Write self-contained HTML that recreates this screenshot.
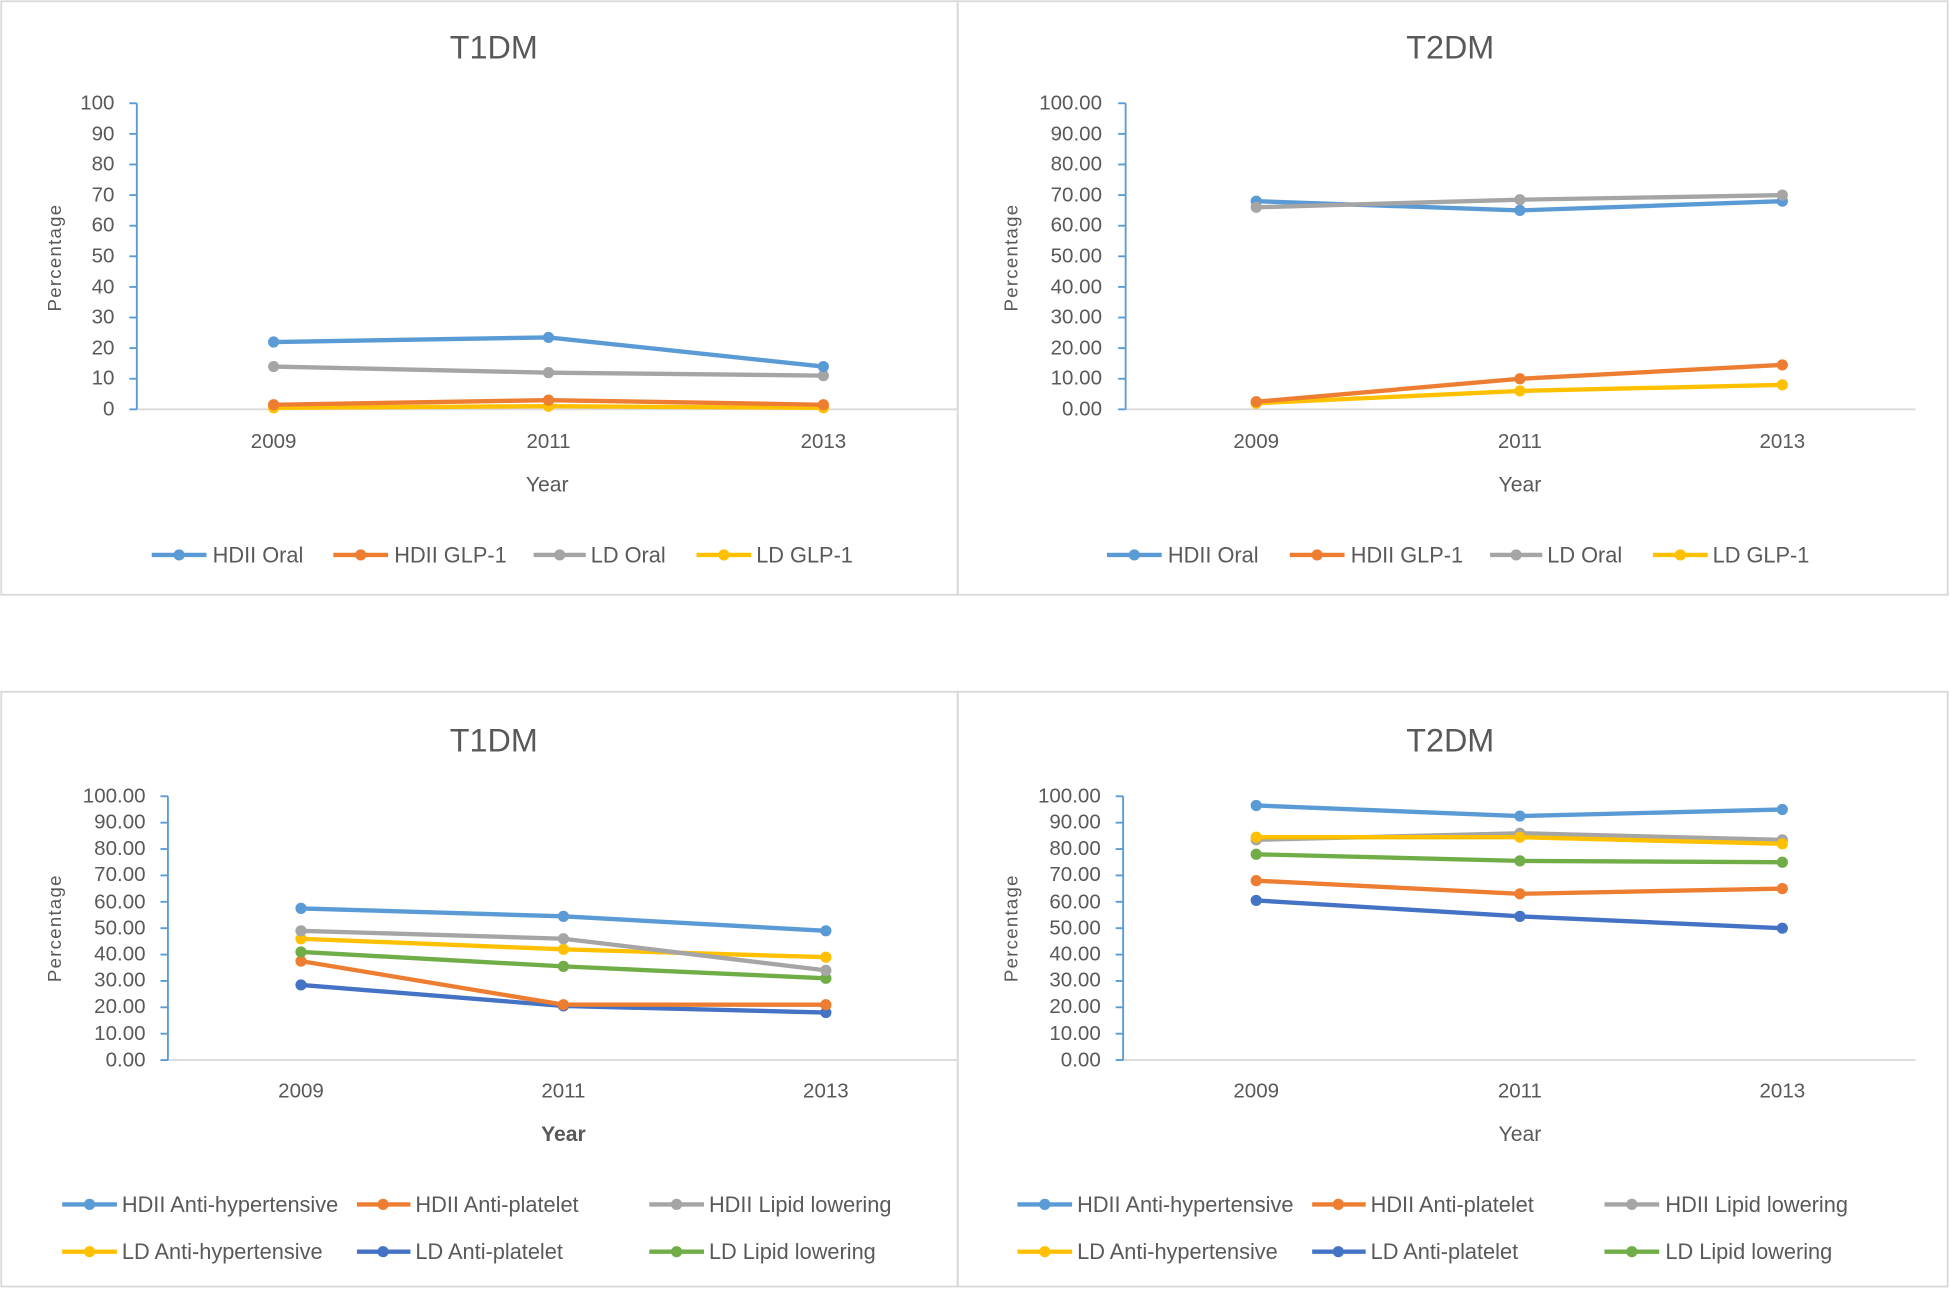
<!DOCTYPE html>
<html><head><meta charset="utf-8"><style>
html,body{margin:0;padding:0;background:#fff;}
svg{display:block;}
text{font-family:"Liberation Sans",sans-serif;fill:#595959;}
.t{font-size:26px;text-anchor:middle;}
.tk{font-size:16.5px;text-anchor:end;}
.xt{font-size:16.5px;text-anchor:middle;}
.lg{font-size:17.5px;}
</style></head><body>
<svg width="1949" height="1289" viewBox="0 0 1567 1036" preserveAspectRatio="none" xmlns="http://www.w3.org/2000/svg">
<rect width="1567" height="1036" fill="#fff"/>
<g fill="none" stroke="#d9d9d9" stroke-width="1.5">
<rect x="1" y="1" width="769" height="477"/>
<rect x="770" y="1" width="796" height="477"/>
<rect x="1" y="556" width="769" height="478"/>
<rect x="770" y="556" width="796" height="478"/>
</g>

<!-- TL -->
<text class="t" x="397" y="47">T1DM</text>
<line x1="110" y1="329" x2="770" y2="329" stroke="#d9d9d9" stroke-width="1.5"/>
<line x1="110" y1="83" x2="110" y2="329" stroke="#5b9bd5" stroke-width="1.5"/>
<g stroke="#5b9bd5" stroke-width="1.5">
<line x1="104" y1="83" x2="110" y2="83"/><line x1="104" y1="107.6" x2="110" y2="107.6"/><line x1="104" y1="132.2" x2="110" y2="132.2"/><line x1="104" y1="156.8" x2="110" y2="156.8"/><line x1="104" y1="181.4" x2="110" y2="181.4"/><line x1="104" y1="206" x2="110" y2="206"/><line x1="104" y1="230.6" x2="110" y2="230.6"/><line x1="104" y1="255.2" x2="110" y2="255.2"/><line x1="104" y1="279.8" x2="110" y2="279.8"/><line x1="104" y1="304.4" x2="110" y2="304.4"/><line x1="104" y1="329" x2="110" y2="329"/>
</g>
<text class="tk" x="92" y="88">100</text><text class="tk" x="92" y="113">90</text><text class="tk" x="92" y="137">80</text><text class="tk" x="92" y="162">70</text><text class="tk" x="92" y="186">60</text><text class="tk" x="92" y="211">50</text><text class="tk" x="92" y="236">40</text><text class="tk" x="92" y="260">30</text><text class="tk" x="92" y="285">20</text><text class="tk" x="92" y="309">10</text><text class="tk" x="92" y="334">0</text>
<text class="xt" x="220" y="360">2009</text><text class="xt" x="441" y="360">2011</text><text class="xt" x="662" y="360">2013</text>
<text class="xt" x="440" y="395" style="font-size:17px">Year</text>
<text class="xt" x="0" y="0" transform="translate(49,207) rotate(-90)" style="font-size:15px;letter-spacing:1px">Percentage</text>
<g stroke-width="3.5" fill="none">
<polyline stroke="#ffc000" points="220,327.8 441,326.5 662,327.8"/>
<polyline stroke="#ed7d31" points="220,325.3 441,321.6 662,325.3"/>
<polyline stroke="#a5a5a5" points="220,294.6 441,299.5 662,301.9"/>
<polyline stroke="#5b9bd5" points="220,274.9 441,271.2 662,294.6"/>
</g>
<g fill="#ffc000"><circle cx="220" cy="327.8" r="4.5"/><circle cx="441" cy="326.5" r="4.5"/><circle cx="662" cy="327.8" r="4.5"/></g>
<g fill="#ed7d31"><circle cx="220" cy="325.3" r="4.5"/><circle cx="441" cy="321.6" r="4.5"/><circle cx="662" cy="325.3" r="4.5"/></g>
<g fill="#a5a5a5"><circle cx="220" cy="294.6" r="4.5"/><circle cx="441" cy="299.5" r="4.5"/><circle cx="662" cy="301.9" r="4.5"/></g>
<g fill="#5b9bd5"><circle cx="220" cy="274.9" r="4.5"/><circle cx="441" cy="271.2" r="4.5"/><circle cx="662" cy="294.6" r="4.5"/></g>
<g stroke-width="3.5">
<line x1="122" y1="446" x2="166" y2="446" stroke="#5b9bd5"/><circle cx="144" cy="446" r="4.5" fill="#5b9bd5"/>
<line x1="268" y1="446" x2="312" y2="446" stroke="#ed7d31"/><circle cx="290" cy="446" r="4.5" fill="#ed7d31"/>
<line x1="429" y1="446" x2="471" y2="446" stroke="#a5a5a5"/><circle cx="450" cy="446" r="4.5" fill="#a5a5a5"/>
<line x1="560" y1="446" x2="604" y2="446" stroke="#ffc000"/><circle cx="582" cy="446" r="4.5" fill="#ffc000"/>
</g>
<text class="lg" x="171" y="452">HDII Oral</text><text class="lg" x="317" y="452">HDII GLP-1</text><text class="lg" x="475" y="452">LD Oral</text><text class="lg" x="608" y="452">LD GLP-1</text>

<!-- TR -->
<text class="t" x="1166" y="47">T2DM</text>
<line x1="905" y1="329" x2="1540" y2="329" stroke="#d9d9d9" stroke-width="1.5"/>
<line x1="905" y1="83" x2="905" y2="329" stroke="#5b9bd5" stroke-width="1.5"/>
<g stroke="#5b9bd5" stroke-width="1.5">
<line x1="899" y1="83" x2="905" y2="83"/><line x1="899" y1="107.6" x2="905" y2="107.6"/><line x1="899" y1="132.2" x2="905" y2="132.2"/><line x1="899" y1="156.8" x2="905" y2="156.8"/><line x1="899" y1="181.4" x2="905" y2="181.4"/><line x1="899" y1="206" x2="905" y2="206"/><line x1="899" y1="230.6" x2="905" y2="230.6"/><line x1="899" y1="255.2" x2="905" y2="255.2"/><line x1="899" y1="279.8" x2="905" y2="279.8"/><line x1="899" y1="304.4" x2="905" y2="304.4"/><line x1="899" y1="329" x2="905" y2="329"/>
</g>
<text class="tk" x="886" y="88">100.00</text><text class="tk" x="886" y="113">90.00</text><text class="tk" x="886" y="137">80.00</text><text class="tk" x="886" y="162">70.00</text><text class="tk" x="886" y="186">60.00</text><text class="tk" x="886" y="211">50.00</text><text class="tk" x="886" y="236">40.00</text><text class="tk" x="886" y="260">30.00</text><text class="tk" x="886" y="285">20.00</text><text class="tk" x="886" y="309">10.00</text><text class="tk" x="886" y="334">0.00</text>
<text class="xt" x="1010" y="360">2009</text><text class="xt" x="1222" y="360">2011</text><text class="xt" x="1433" y="360">2013</text>
<text class="xt" x="1222" y="395" style="font-size:17px">Year</text>
<text class="xt" x="0" y="0" transform="translate(818,207) rotate(-90)" style="font-size:15px;letter-spacing:1px">Percentage</text>
<g stroke-width="3.5" fill="none">
<polyline stroke="#ffc000" points="1010,324.1 1222,314.2 1433,309.3"/>
<polyline stroke="#ed7d31" points="1010,322.9 1222,304.4 1433,293.3"/>
<polyline stroke="#5b9bd5" points="1010,161.7 1222,169.1 1433,161.7"/>
<polyline stroke="#a5a5a5" points="1010,166.6 1222,160.5 1433,156.8"/>
</g>
<g fill="#ffc000"><circle cx="1010" cy="324.1" r="4.5"/><circle cx="1222" cy="314.2" r="4.5"/><circle cx="1433" cy="309.3" r="4.5"/></g>
<g fill="#ed7d31"><circle cx="1010" cy="322.9" r="4.5"/><circle cx="1222" cy="304.4" r="4.5"/><circle cx="1433" cy="293.3" r="4.5"/></g>
<g fill="#5b9bd5"><circle cx="1010" cy="161.7" r="4.5"/><circle cx="1222" cy="169.1" r="4.5"/><circle cx="1433" cy="161.7" r="4.5"/></g>
<g fill="#a5a5a5"><circle cx="1010" cy="166.6" r="4.5"/><circle cx="1222" cy="160.5" r="4.5"/><circle cx="1433" cy="156.8" r="4.5"/></g>
<g stroke-width="3.5">
<line x1="890" y1="446" x2="934" y2="446" stroke="#5b9bd5"/><circle cx="912" cy="446" r="4.5" fill="#5b9bd5"/>
<line x1="1037" y1="446" x2="1081" y2="446" stroke="#ed7d31"/><circle cx="1059" cy="446" r="4.5" fill="#ed7d31"/>
<line x1="1198" y1="446" x2="1240" y2="446" stroke="#a5a5a5"/><circle cx="1219" cy="446" r="4.5" fill="#a5a5a5"/>
<line x1="1329" y1="446" x2="1373" y2="446" stroke="#ffc000"/><circle cx="1351" cy="446" r="4.5" fill="#ffc000"/>
</g>
<text class="lg" x="939" y="452">HDII Oral</text><text class="lg" x="1086" y="452">HDII GLP-1</text><text class="lg" x="1244" y="452">LD Oral</text><text class="lg" x="1377" y="452">LD GLP-1</text>

<!-- BL -->
<text class="t" x="397" y="604">T1DM</text>
<line x1="135" y1="852" x2="770" y2="852" stroke="#d9d9d9" stroke-width="1.5"/>
<line x1="135" y1="640" x2="135" y2="852" stroke="#5b9bd5" stroke-width="1.5"/>
<g stroke="#5b9bd5" stroke-width="1.5">
<line x1="129" y1="640" x2="135" y2="640"/><line x1="129" y1="661.2" x2="135" y2="661.2"/><line x1="129" y1="682.4" x2="135" y2="682.4"/><line x1="129" y1="703.6" x2="135" y2="703.6"/><line x1="129" y1="724.8" x2="135" y2="724.8"/><line x1="129" y1="746" x2="135" y2="746"/><line x1="129" y1="767.2" x2="135" y2="767.2"/><line x1="129" y1="788.4" x2="135" y2="788.4"/><line x1="129" y1="809.6" x2="135" y2="809.6"/><line x1="129" y1="830.8" x2="135" y2="830.8"/><line x1="129" y1="852" x2="135" y2="852"/>
</g>
<text class="tk" x="117" y="645">100.00</text><text class="tk" x="117" y="666">90.00</text><text class="tk" x="117" y="687">80.00</text><text class="tk" x="117" y="708">70.00</text><text class="tk" x="117" y="730">60.00</text><text class="tk" x="117" y="751">50.00</text><text class="tk" x="117" y="772">40.00</text><text class="tk" x="117" y="793">30.00</text><text class="tk" x="117" y="814">20.00</text><text class="tk" x="117" y="836">10.00</text><text class="tk" x="117" y="857">0.00</text>
<text class="xt" x="242" y="882">2009</text><text class="xt" x="453" y="882">2011</text><text class="xt" x="664" y="882">2013</text>
<text class="xt" x="453" y="917" style="font-size:17px;font-weight:bold">Year</text>
<text class="xt" x="0" y="0" transform="translate(49,746) rotate(-90)" style="font-size:15px;letter-spacing:1px">Percentage</text>
<g stroke-width="3.5" fill="none">
<polyline stroke="#4472c4" points="242,791.6 453,808.5 664,813.8"/>
<polyline stroke="#ed7d31" points="242,772.5 453,807.5 664,807.5"/>
<polyline stroke="#70ad47" points="242,765.1 453,776.7 664,786.3"/>
<polyline stroke="#ffc000" points="242,754.5 453,763 664,769.3"/>
<polyline stroke="#a5a5a5" points="242,748.1 453,754.5 664,779.9"/>
<polyline stroke="#5b9bd5" points="242,730.1 453,736.5 664,748.1"/>
</g>
<g fill="#4472c4"><circle cx="242" cy="791.6" r="4.5"/><circle cx="453" cy="808.5" r="4.5"/><circle cx="664" cy="813.8" r="4.5"/></g>
<g fill="#ed7d31"><circle cx="242" cy="772.5" r="4.5"/><circle cx="453" cy="807.5" r="4.5"/><circle cx="664" cy="807.5" r="4.5"/></g>
<g fill="#70ad47"><circle cx="242" cy="765.1" r="4.5"/><circle cx="453" cy="776.7" r="4.5"/><circle cx="664" cy="786.3" r="4.5"/></g>
<g fill="#ffc000"><circle cx="242" cy="754.5" r="4.5"/><circle cx="453" cy="763" r="4.5"/><circle cx="664" cy="769.3" r="4.5"/></g>
<g fill="#a5a5a5"><circle cx="242" cy="748.1" r="4.5"/><circle cx="453" cy="754.5" r="4.5"/><circle cx="664" cy="779.9" r="4.5"/></g>
<g fill="#5b9bd5"><circle cx="242" cy="730.1" r="4.5"/><circle cx="453" cy="736.5" r="4.5"/><circle cx="664" cy="748.1" r="4.5"/></g>
<g stroke-width="3.5">
<line x1="50" y1="968" x2="94" y2="968" stroke="#5b9bd5"/><circle cx="72" cy="968" r="4.5" fill="#5b9bd5"/>
<line x1="287" y1="968" x2="330" y2="968" stroke="#ed7d31"/><circle cx="308" cy="968" r="4.5" fill="#ed7d31"/>
<line x1="522" y1="968" x2="566" y2="968" stroke="#a5a5a5"/><circle cx="544" cy="968" r="4.5" fill="#a5a5a5"/>
<line x1="50" y1="1006" x2="94" y2="1006" stroke="#ffc000"/><circle cx="72" cy="1006" r="4.5" fill="#ffc000"/>
<line x1="287" y1="1006" x2="330" y2="1006" stroke="#4472c4"/><circle cx="308" cy="1006" r="4.5" fill="#4472c4"/>
<line x1="522" y1="1006" x2="566" y2="1006" stroke="#70ad47"/><circle cx="544" cy="1006" r="4.5" fill="#70ad47"/>
</g>
<text class="lg" x="98" y="974">HDII Anti-hypertensive</text><text class="lg" x="334" y="974">HDII Anti-platelet</text><text class="lg" x="570" y="974">HDII Lipid lowering</text>
<text class="lg" x="98" y="1012">LD Anti-hypertensive</text><text class="lg" x="334" y="1012">LD Anti-platelet</text><text class="lg" x="570" y="1012">LD Lipid lowering</text>

<!-- BR -->
<text class="t" x="1166" y="604">T2DM</text>
<line x1="903" y1="852" x2="1540" y2="852" stroke="#d9d9d9" stroke-width="1.5"/>
<line x1="903" y1="640" x2="903" y2="852" stroke="#5b9bd5" stroke-width="1.5"/>
<g stroke="#5b9bd5" stroke-width="1.5">
<line x1="897" y1="640" x2="903" y2="640"/><line x1="897" y1="661.2" x2="903" y2="661.2"/><line x1="897" y1="682.4" x2="903" y2="682.4"/><line x1="897" y1="703.6" x2="903" y2="703.6"/><line x1="897" y1="724.8" x2="903" y2="724.8"/><line x1="897" y1="746" x2="903" y2="746"/><line x1="897" y1="767.2" x2="903" y2="767.2"/><line x1="897" y1="788.4" x2="903" y2="788.4"/><line x1="897" y1="809.6" x2="903" y2="809.6"/><line x1="897" y1="830.8" x2="903" y2="830.8"/><line x1="897" y1="852" x2="903" y2="852"/>
</g>
<text class="tk" x="885" y="645">100.00</text><text class="tk" x="885" y="666">90.00</text><text class="tk" x="885" y="687">80.00</text><text class="tk" x="885" y="708">70.00</text><text class="tk" x="885" y="730">60.00</text><text class="tk" x="885" y="751">50.00</text><text class="tk" x="885" y="772">40.00</text><text class="tk" x="885" y="793">30.00</text><text class="tk" x="885" y="814">20.00</text><text class="tk" x="885" y="836">10.00</text><text class="tk" x="885" y="857">0.00</text>
<text class="xt" x="1010" y="882">2009</text><text class="xt" x="1222" y="882">2011</text><text class="xt" x="1433" y="882">2013</text>
<text class="xt" x="1222" y="917" style="font-size:17px">Year</text>
<text class="xt" x="0" y="0" transform="translate(818,746) rotate(-90)" style="font-size:15px;letter-spacing:1px">Percentage</text>
<g stroke-width="3.5" fill="none">
<polyline stroke="#4472c4" points="1010,723.7 1222,736.5 1433,746"/>
<polyline stroke="#ed7d31" points="1010,707.8 1222,718.4 1433,714.2"/>
<polyline stroke="#70ad47" points="1010,686.6 1222,691.9 1433,693"/>
<polyline stroke="#a5a5a5" points="1010,675 1222,669.7 1433,675"/>
<polyline stroke="#ffc000" points="1010,672.9 1222,672.9 1433,678.2"/>
<polyline stroke="#5b9bd5" points="1010,647.4 1222,655.9 1433,650.6"/>
</g>
<g fill="#4472c4"><circle cx="1010" cy="723.7" r="4.5"/><circle cx="1222" cy="736.5" r="4.5"/><circle cx="1433" cy="746" r="4.5"/></g>
<g fill="#ed7d31"><circle cx="1010" cy="707.8" r="4.5"/><circle cx="1222" cy="718.4" r="4.5"/><circle cx="1433" cy="714.2" r="4.5"/></g>
<g fill="#70ad47"><circle cx="1010" cy="686.6" r="4.5"/><circle cx="1222" cy="691.9" r="4.5"/><circle cx="1433" cy="693" r="4.5"/></g>
<g fill="#a5a5a5"><circle cx="1010" cy="675" r="4.5"/><circle cx="1222" cy="669.7" r="4.5"/><circle cx="1433" cy="675" r="4.5"/></g>
<g fill="#ffc000"><circle cx="1010" cy="672.9" r="4.5"/><circle cx="1222" cy="672.9" r="4.5"/><circle cx="1433" cy="678.2" r="4.5"/></g>
<g fill="#5b9bd5"><circle cx="1010" cy="647.4" r="4.5"/><circle cx="1222" cy="655.9" r="4.5"/><circle cx="1433" cy="650.6" r="4.5"/></g>
<g stroke-width="3.5">
<line x1="818" y1="968" x2="862" y2="968" stroke="#5b9bd5"/><circle cx="840" cy="968" r="4.5" fill="#5b9bd5"/>
<line x1="1055" y1="968" x2="1098" y2="968" stroke="#ed7d31"/><circle cx="1076" cy="968" r="4.5" fill="#ed7d31"/>
<line x1="1290" y1="968" x2="1334" y2="968" stroke="#a5a5a5"/><circle cx="1312" cy="968" r="4.5" fill="#a5a5a5"/>
<line x1="818" y1="1006" x2="862" y2="1006" stroke="#ffc000"/><circle cx="840" cy="1006" r="4.5" fill="#ffc000"/>
<line x1="1055" y1="1006" x2="1098" y2="1006" stroke="#4472c4"/><circle cx="1076" cy="1006" r="4.5" fill="#4472c4"/>
<line x1="1290" y1="1006" x2="1334" y2="1006" stroke="#70ad47"/><circle cx="1312" cy="1006" r="4.5" fill="#70ad47"/>
</g>
<text class="lg" x="866" y="974">HDII Anti-hypertensive</text><text class="lg" x="1102" y="974">HDII Anti-platelet</text><text class="lg" x="1339" y="974">HDII Lipid lowering</text>
<text class="lg" x="866" y="1012">LD Anti-hypertensive</text><text class="lg" x="1102" y="1012">LD Anti-platelet</text><text class="lg" x="1339" y="1012">LD Lipid lowering</text>
</svg>
</body></html>
